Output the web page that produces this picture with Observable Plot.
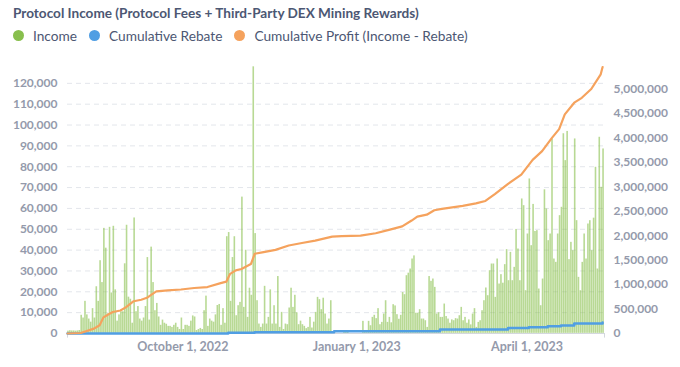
<!DOCTYPE html>
<html>
<head>
<meta charset="utf-8">
<script src="https://cdn.jsdelivr.net/npm/d3@7"></script>
<script src="https://cdn.jsdelivr.net/npm/@observablehq/plot@0.6"></script>
<style>
  html, body { margin: 0; padding: 0; background: #fff; }
  #wrap { position: relative; width: 680px; height: 367px; font-family: Lato, "Noto Sans", sans-serif; overflow: hidden; }
  #title { position: absolute; left: 13px; top: 4px; font-size: 13.6px; line-height: 18px; font-weight: 700; color: #4c5773; white-space: nowrap; }
  #legend { position: absolute; left: 13px; top: 26px; height: 18px; display: flex; align-items: center; font-size: 13.7px; color: #4c5773; white-space: nowrap; }
  .item { display: flex; align-items: center; margin-right: 12px; }
  .dot { width: 11px; height: 11px; border-radius: 50%; margin-right: 9px; }
  #chart { position: absolute; left: 0; top: 50px; }
</style>
</head>
<body>
<div id="wrap">
  <div id="title">Protocol Income (Protocol Fees + Third-Party DEX Mining Rewards)</div>
  <div id="legend"></div>
  <div id="chart"></div>
</div>
<script>
// ---- Data (daily income, USD), by month ----
const startDate = "2022-08-01";
const incomeAug2022 = [1200,1400,1300,1300,1200,1300,1500,8800,7500,15500,9000,7000,5500,12000,7500,22500,15500,35000,24500,50500,41000,9500,51000,19500,51500,21000,6000,9000,10500,10500,33500];
const incomeSep2022 = [52000,17500,16500,5000,55500,10500,13000,7000,6000,7500,13000,36500,6500,41500,24500,11000,14500,8000,4000,6500,5000,4500,3500,3500,3000,4000,5000,3000,2000,7500];
const incomeOct2022 = [2000,4000,4000,3500,6000,8500,8000,1500,2000,2500,2000,11000,18000,3500,7000,6000,5500,9000,13500,14000,4000,12000,5000,46500,48500,15500,36500,46500,8600,13400,15000];
const incomeNov2022 = [65500,12600,40000,7800,21800,18400,128000,48000,15800,4600,3000,4600,22700,4600,7800,21000,4600,13400,4600,27400,3000,10200,2000,4600,4300,12300,21800,12600,18400,10000];
const incomeDec2022 = [4300,6000,4300,3500,2400,3000,7800,2700,5500,10200,17400,16300,11500,17000,9400,4600,7000,15800,500,300,0,0,0,0,800,1200,600,0,0,0,0];
const incomeJan2023 = [0,0,0,5900,800,500,5900,3800,7800,8800,7200,12000,4300,5400,9400,15800,5400,7800,5200,13900,13300,9100,6900,8800,19700,18700,27800,29000,31000,35800,37300];
const incomeFeb2023 = [9800,9800,11500,7000,7000,6200,3000,27400,25100,26200,22200,9400,10000,7800,7800,14200,8200,7000,5000,6600,6200,7200,7000,8600,12600,6200,7800,5000];
const incomeMar2023 = [6600,4200,9400,12000,3000,5400,6200,11000,15800,21900,18200,30200,33400,33400,17400,35800,23800,28300,24200,33100,40300,25400,39000,25400,31800,50000,40600,25400,64600,61400,20600];
const incomeApr2023 = [47800,74200,42200,62000,49000,49400,21400,13400,26200,69000,59800,44600,47800,93400,35800,34200,47800,56600,60600,95900,83000,97000,35500,43800,39800,93400,54200,27000,20600,34200];
const incomeMay2023 = [47800,35800,52600,54200,39800,55400,79800,31000,94200,70200,88600];

// Cumulative rebate (USD) – step changes
const rebateDates  = ["2022-08-01","2022-10-25","2022-11-08","2022-12-20","2023-02-14","2023-03-22","2023-04-02","2023-04-12","2023-04-19","2023-04-26","2023-05-11"];
const rebateValues = [0,15000,25000,45000,80000,110000,130000,150000,165000,205000,225000];

// Cumulative profit (USD)
const profitDates = ["2022-08-01","2022-08-08","2022-08-15","2022-08-18","2022-08-20","2022-08-23","2022-08-25","2022-08-29","2022-09-01","2022-09-05","2022-09-09","2022-09-12","2022-09-15","2022-09-17","2022-09-23","2022-09-30","2022-10-07","2022-10-14","2022-10-21","2022-10-24","2022-10-26","2022-10-29","2022-11-01","2022-11-06","2022-11-08","2022-11-12","2022-11-19","2022-11-26","2022-12-03","2022-12-10","2022-12-19","2022-12-24","2023-01-03","2023-01-11","2023-01-18","2023-01-25","2023-01-30","2023-02-02","2023-02-07","2023-02-11","2023-02-15","2023-02-26","2023-03-05","2023-03-10","2023-03-15","2023-03-22","2023-03-29","2023-04-04","2023-04-09","2023-04-14","2023-04-18","2023-04-21","2023-04-26","2023-04-30","2023-05-05","2023-05-10","2023-05-11"];
const profitValues = [0,10000,100000,170000,330000,400000,440000,470000,540000,660000,690000,730000,810000,860000,880000,900000,930000,950000,1030000,1060000,1220000,1290000,1320000,1420000,1630000,1660000,1710000,1800000,1850000,1900000,1980000,1990000,2000000,2050000,2120000,2190000,2310000,2390000,2430000,2520000,2550000,2610000,2660000,2710000,2850000,3060000,3250000,3550000,3730000,3990000,4180000,4480000,4720000,4820000,5000000,5300000,5450000];

// Axis ticks
const leftTicks = [0,10000,20000,30000,40000,50000,60000,70000,80000,90000,100000,110000,120000];
const rightTicks = [0,500000,1000000,1500000,2000000,2500000,3000000,3500000,4000000,4500000,5000000];
const xTickDates = ["2022-10-01","2023-01-01","2023-04-01"];

// Series names / colours
const seriesNames = ["Income","Cumulative Rebate","Cumulative Profit (Income - Rebate)"];
const seriesColors = ["#88BF4D","#509EE3","#F5A25D"];

// ---- Build ----
const parse = d3.utcParse("%Y-%m-%d");
const start = parse(startDate);
const allIncome = [].concat(incomeAug2022,incomeSep2022,incomeOct2022,incomeNov2022,incomeDec2022,incomeJan2023,incomeFeb2023,incomeMar2023,incomeApr2023,incomeMay2023);
const incomeData = allIncome.map((v,i) => ({date: d3.utcDay.offset(start,i), value: v}));
const rebateData = rebateDates.map((d,i) => ({date: parse(d), value: rebateValues[i]}));
const profitData = profitDates.map((d,i) => ({date: parse(d), value: profitValues[i]}));

const leftMax = 130000, rightMax = 5542000;
const k = leftMax / rightMax; // right-axis values into left-axis units
const fmt = d3.format(",");
const axisColor = "#949aab";

// legend
const legend = document.getElementById("legend");
seriesNames.forEach((n,i) => {
  const it = document.createElement("div");
  it.className = "item";
  it.innerHTML = `<span class="dot" style="background:${seriesColors[i]}"></span><span>${n}</span>`;
  legend.appendChild(it);
});

const chart = Plot.plot({
  width: 680,
  height: 317,
  marginLeft: 67,
  marginRight: 76,
  marginTop: 12,
  marginBottom: 34,
  style: {fontFamily: "Lato, 'Noto Sans', sans-serif", fontSize: "12px", fontWeight: 700, background: "transparent"},
  x: {type: "utc", domain: [parse("2022-08-01"), parse("2023-05-12")]},
  y: {domain: [0, leftMax]},
  marks: [
    Plot.gridY(leftTicks.slice(1), {stroke: "#e3e6eb", strokeOpacity: 1, strokeDasharray: "5,4"}),
    Plot.rectY(incomeData, {x1: "date", x2: d => d3.utcDay.offset(d.date, 1), y: "value", fill: seriesColors[0], fillOpacity: 0.6, inset: 0.15}),
    Plot.ruleY([0], {stroke: "#d4d8df"}),
    Plot.ruleX([parse("2022-08-01"), parse("2023-05-12")], {y1: 0, y2: -2200, stroke: "#d4d8df"}),
    Plot.lineY(rebateData, {x: "date", y: d => d.value * k, stroke: seriesColors[1], strokeWidth: 2.5, curve: "step-after"}),
    Plot.lineY(profitData, {x: "date", y: d => d.value * k, stroke: seriesColors[2], strokeWidth: 2.2}),
    Plot.axisY(leftTicks, {anchor: "left", tickSize: 0, tickPadding: 10, tickFormat: fmt, fill: axisColor, label: null}),
    Plot.axisY(rightTicks.map(d => d * k), {anchor: "right", tickSize: 0, tickPadding: 9, tickFormat: d => fmt(Math.round(d / k / 100000) * 100000), fill: axisColor, label: null}),
    Plot.axisX(xTickDates.map(parse), {tickSize: 0, tickPadding: 9, tickFormat: d3.utcFormat("%B %-d, %Y"), fill: axisColor, label: null, fontSize: 12.5})
  ]
});
document.getElementById("chart").appendChild(chart);
</script>
</body>
</html>
